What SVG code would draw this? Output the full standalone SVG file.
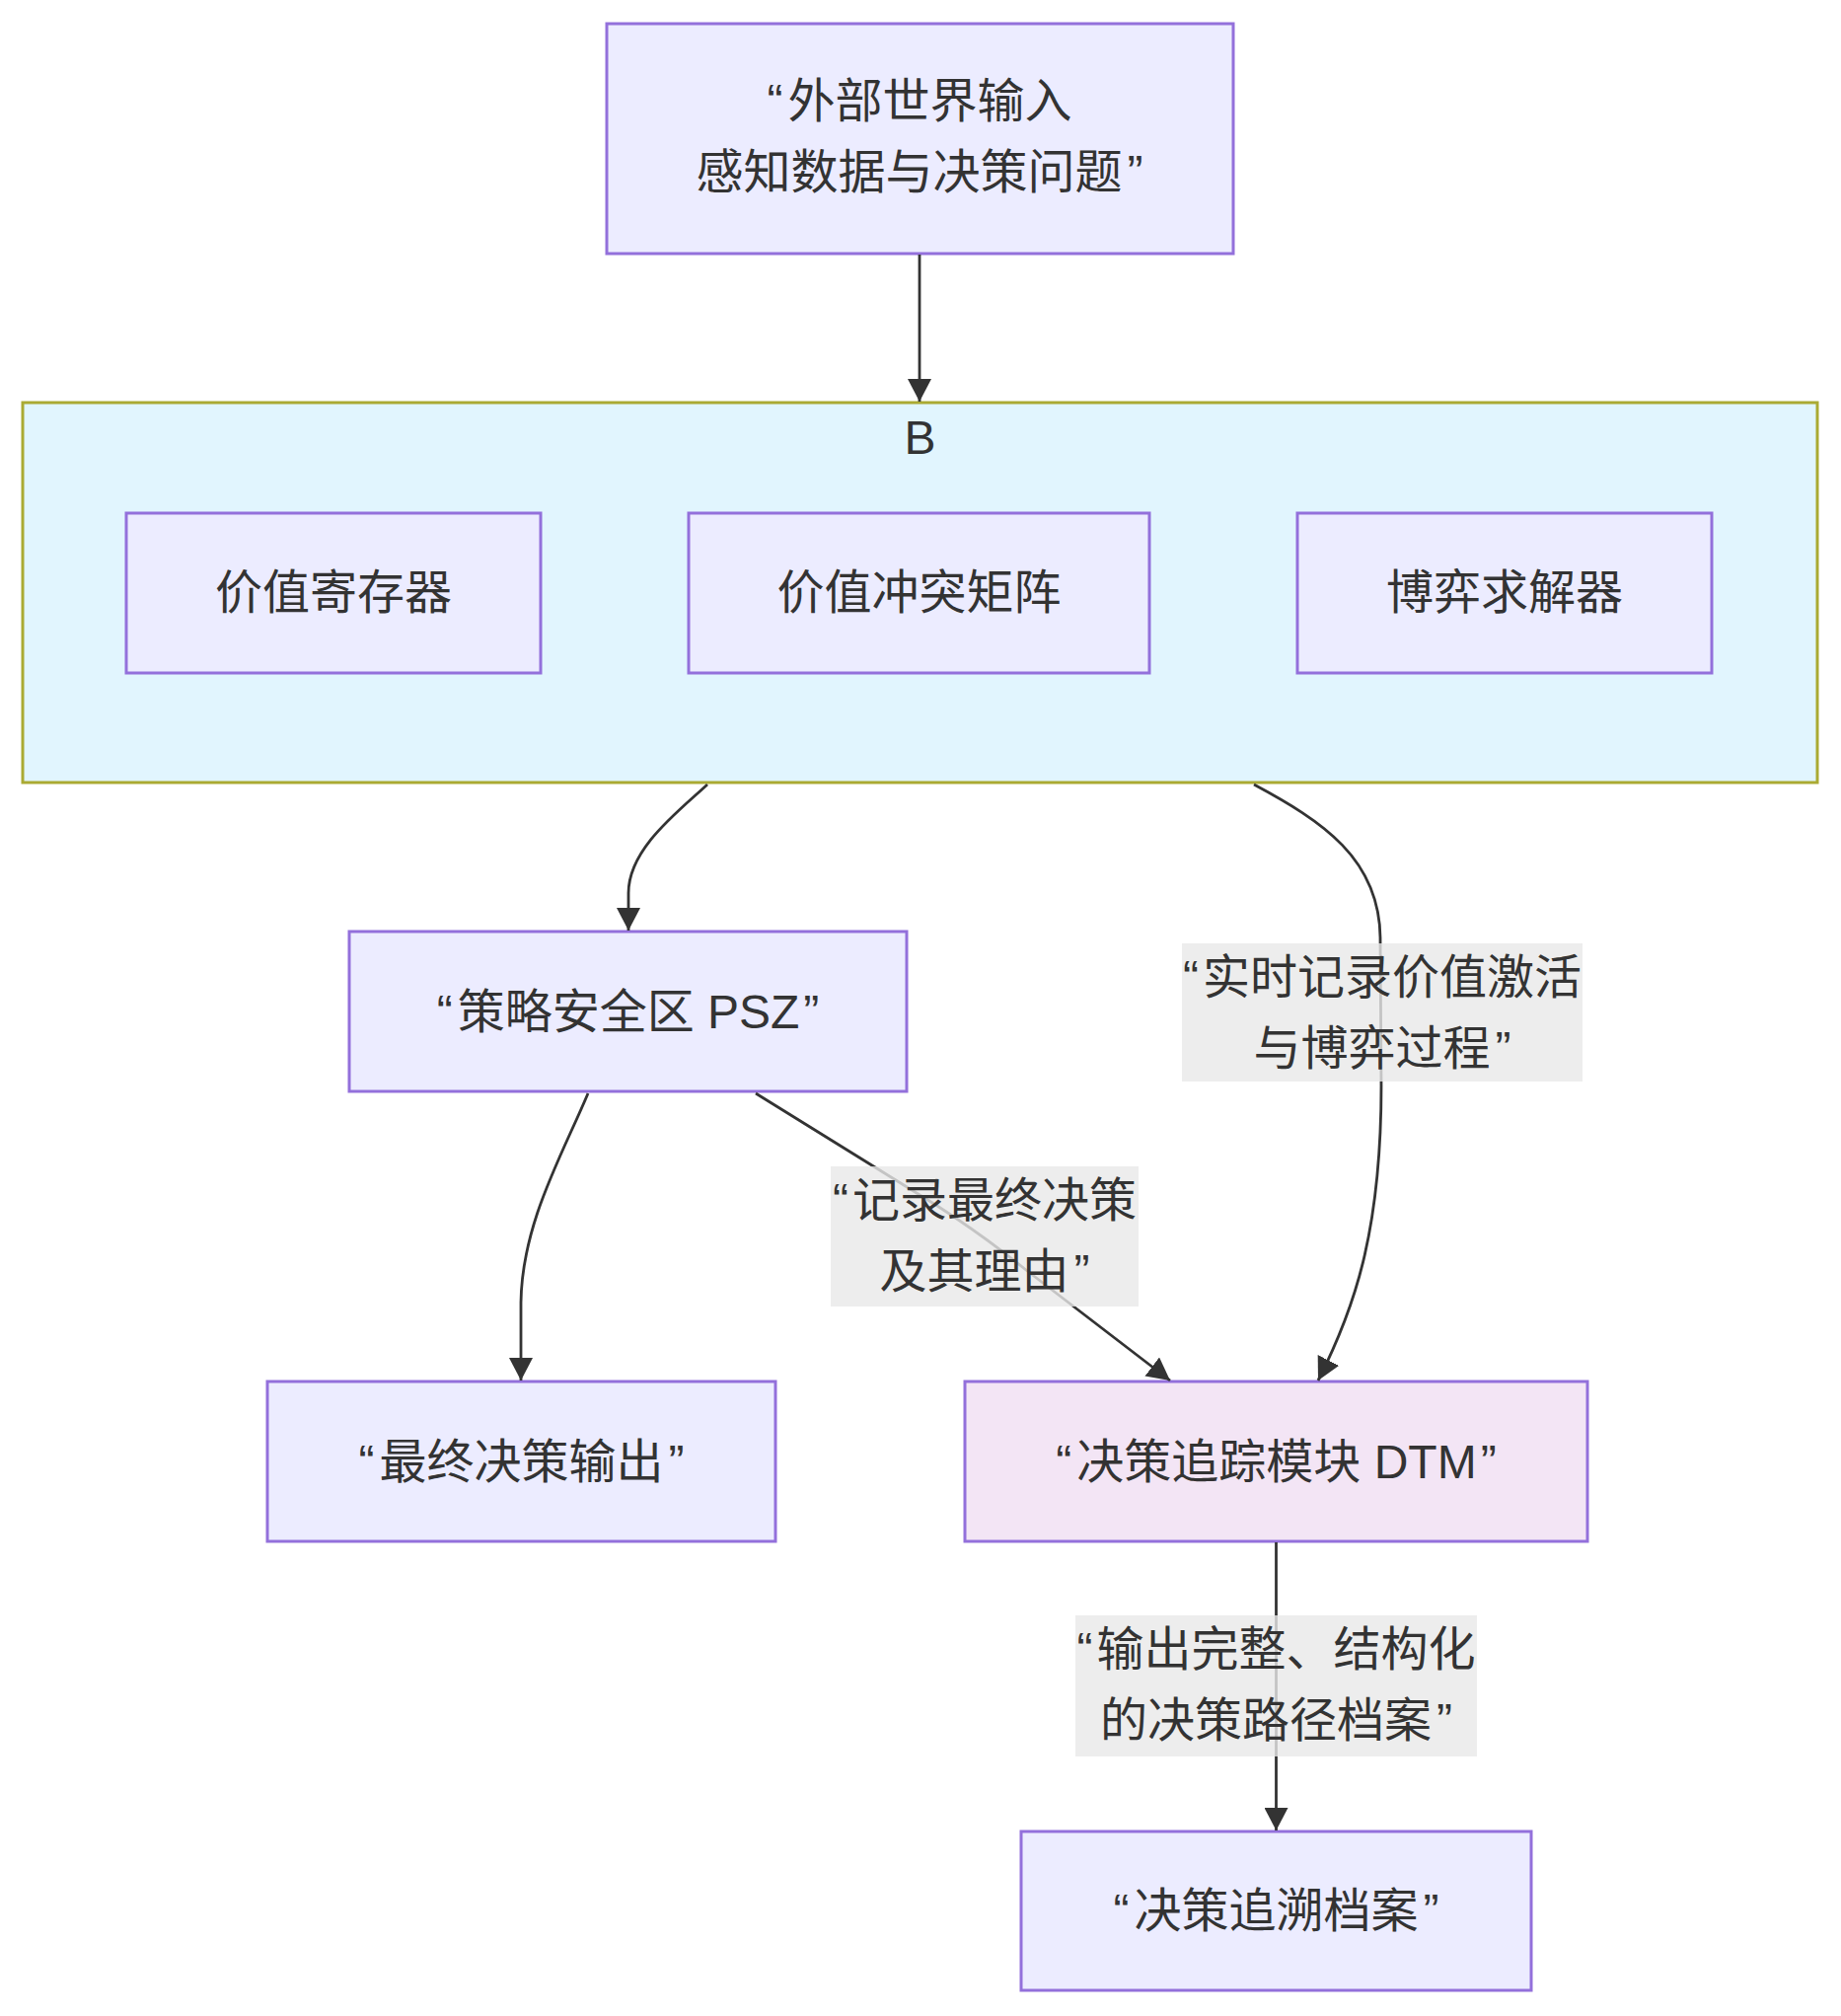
<svg xmlns="http://www.w3.org/2000/svg" width="1866" height="2043" viewBox="0 0 1866 2043">
<style>
  .node rect { fill: #ECECFF; stroke: #9370DB; stroke-width: 3; }
  .node.dtm rect { fill: #F3E5F5; }
  .cluster rect { fill: #E1F5FE; stroke: #AAAA33; stroke-width: 3; }
  text { font-family: "Liberation Sans", "Noto Sans CJK SC", sans-serif; font-size: 48px; fill: #333333; text-anchor: middle; }
  .edge { fill: none; stroke: #333333; stroke-width: 2.8; marker-end: url(#arrow); }
  .elabel rect { fill: #E8E8E8; fill-opacity: 0.8; }
</style>
<defs>
  <marker id="arrow" markerUnits="userSpaceOnUse" viewBox="0 0 23 24" refX="23" refY="12" markerWidth="23" markerHeight="24" orient="auto">
    <path d="M0,0 L23,12 L0,24 z" fill="#333333"/>
  </marker>
</defs>
<rect width="1866" height="2043" fill="#FFFFFF"/>

<g id="cluster-B" class="cluster">
  <rect x="23" y="408" width="1819" height="385"/>
  <text x="932.5" y="460">B</text>
</g>

<g id="node-input" class="node">
  <rect x="615" y="24" width="635" height="233"/>
  <text x="932" y="119">“<tspan dx="5">外部世界输入</tspan></text>
  <text x="932" y="191">感知数据与决策问题<tspan dx="5">”</tspan></text>
</g>

<g id="node-value-register" class="node">
  <rect x="128" y="520" width="420" height="162"/>
  <text x="338" y="617">价值寄存器</text>
</g>

<g id="node-value-conflict" class="node">
  <rect x="698" y="520" width="467" height="162"/>
  <text x="931.5" y="617">价值冲突矩阵</text>
</g>

<g id="node-game-solver" class="node">
  <rect x="1315" y="520" width="420" height="162"/>
  <text x="1525" y="617">博弈求解器</text>
</g>

<g id="node-psz" class="node">
  <rect x="354" y="944" width="565" height="162"/>
  <text x="636.5" y="1042">“<tspan dx="5">策略安全区 PSZ</tspan><tspan dx="4">”</tspan></text>
</g>

<g id="node-final" class="node">
  <rect x="271" y="1400" width="515" height="162"/>
  <text x="528.5" y="1498">“<tspan dx="5">最终决策输出</tspan><tspan dx="5">”</tspan></text>
</g>

<g id="node-dtm" class="node dtm">
  <rect x="978" y="1400" width="631" height="162"/>
  <text x="1293.5" y="1498">“<tspan dx="5">决策追踪模块 DTM</tspan><tspan dx="4">”</tspan></text>
</g>

<g id="node-archive" class="node">
  <rect x="1035" y="1856" width="517" height="161"/>
  <text x="1293.5" y="1953">“<tspan dx="5">决策追溯档案</tspan><tspan dx="5">”</tspan></text>
</g>

<g id="connectors">
  <path class="edge" d="M932,258 L932,407"/>
  <path class="edge" d="M717,795 C688,822 637,860 637,905 L637,943"/>
  <path class="edge" d="M1271,795 C1340,832 1398,870 1399,950 L1400,1100 C1400,1250 1372,1328 1336,1399"/>
  <path class="edge" d="M596,1108 C570,1170 529,1240 528,1320 L528,1399"/>
  <path class="edge" d="M766,1108 L950,1222 Q998,1253 1040,1287 L1186,1399"/>
  <path class="edge" d="M1293.5,1563 L1293.5,1855"/>
</g>

<g id="edge-labels">
  <g id="label-realtime" class="elabel">
    <rect x="1198" y="956" width="406" height="140"/>
    <text x="1401" y="1007">“<tspan dx="4">实时记录价值激活</tspan></text>
    <text x="1401" y="1079">与博弈过程<tspan dx="5">”</tspan></text>
  </g>
  <g id="label-final" class="elabel">
    <rect x="842" y="1182" width="312" height="142"/>
    <text x="998" y="1233">“<tspan dx="4">记录最终决策</tspan></text>
    <text x="998" y="1305">及其理由<tspan dx="5">”</tspan></text>
  </g>
  <g id="label-archive" class="elabel">
    <rect x="1090" y="1637" width="407" height="143"/>
    <text x="1293.5" y="1688">“<tspan dx="4">输出完整、结构化</tspan></text>
    <text x="1293.5" y="1760">的决策路径档案<tspan dx="5">”</tspan></text>
  </g>
</g>
</svg>
